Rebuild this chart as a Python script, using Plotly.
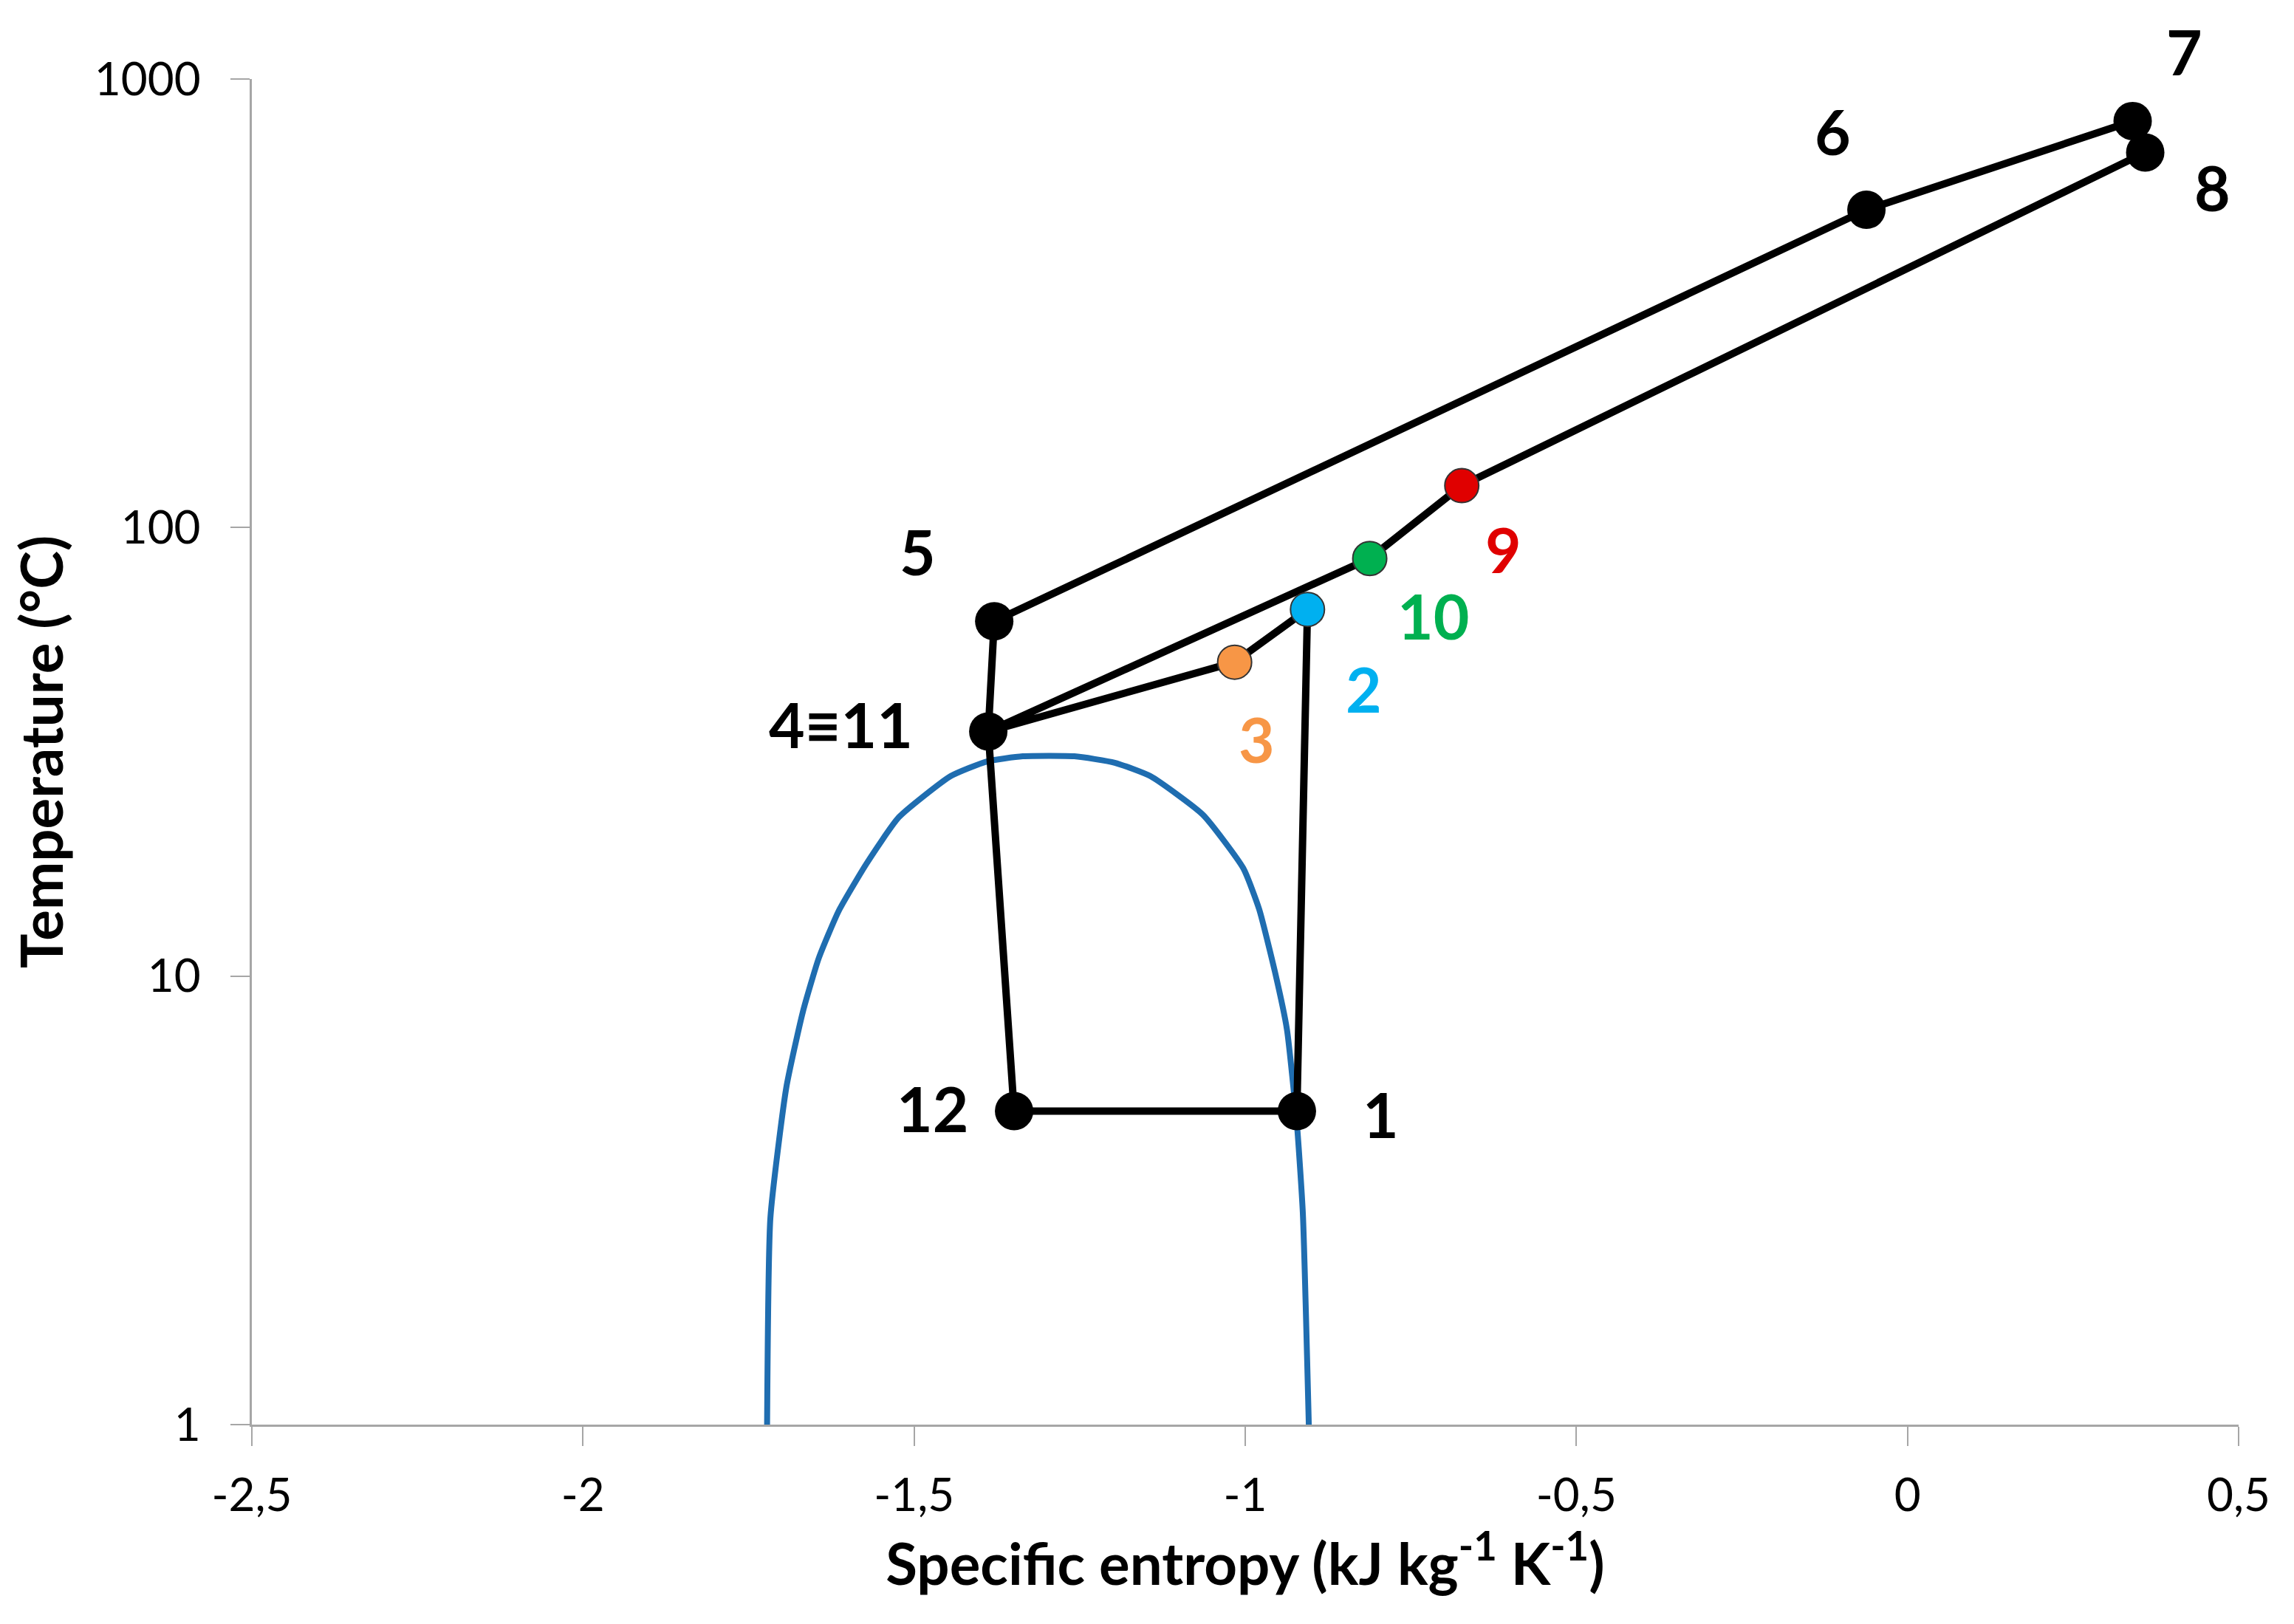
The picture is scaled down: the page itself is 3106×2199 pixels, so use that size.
import math
import plotly.graph_objects as go

# saturation dome (blue curve)
dome_entropy = [-1.722, -1.717, -1.693, -1.668, -1.644, -1.614, -1.572, -1.523, -1.445, -1.390, -1.336,
                -1.258, -1.197, -1.143, -1.064, -1.003, -0.979, -0.955, -0.937, -0.922, -0.913, -0.904]
dome_temp = [1.0, 2.89, 5.64, 8.32, 10.96, 13.96, 17.8, 22.6, 27.9, 30.1, 30.9,
             30.9, 29.9, 27.9, 22.9, 17.4, 14.1, 10.2, 7.6, 4.69, 2.96, 1.0]

# cycle states
state_names = ["1", "2", "3", "4≡11", "5", "6", "7", "8", "9", "10", "12"]
state_entropy = [-0.922, -0.906, -1.016, -1.388, -1.379, -0.062, 0.340, 0.359, -0.673, -0.812, -1.349]
state_temp = [5.0, 65.7, 50.1, 35.1, 61.8, 511, 806, 686, 124, 85.3, 5.0]
state_colors = ["black", "#00B0F0", "#F79646", "black", "black", "black", "black", "black",
                "#E00000", "#00B050", "black"]

# order in which the states are joined: 1-2-3-4-5-6-7-8-9-10-11(=4)-12-1
cycle_order = ["1", "2", "3", "4≡11", "5", "6", "7", "8", "9", "10", "4≡11", "12", "1"]

x_ticks = [-2.5, -2, -1.5, -1, -0.5, 0, 0.5]
x_ticktext = ["-2,5", "-2", "-1,5", "-1", "-0,5", "0", "0,5"]
y_ticks = [1, 10, 100, 1000]
y_ticktext = ["1", "10", "100", "1000"]

idx = {n: i for i, n in enumerate(state_names)}

fig = go.Figure()

fig.add_trace(go.Scatter(x=dome_entropy, y=dome_temp, mode="lines",
                         line=dict(color="#1F6DB0", width=8, shape="spline", smoothing=0.5),
                         showlegend=False))

fig.add_trace(go.Scatter(x=[state_entropy[idx[n]] for n in cycle_order],
                         y=[state_temp[idx[n]] for n in cycle_order],
                         mode="lines", line=dict(color="black", width=10), showlegend=False))

# black markers
blk = [i for i, c in enumerate(state_colors) if c == "black"]
fig.add_trace(go.Scatter(x=[state_entropy[i] for i in blk], y=[state_temp[i] for i in blk],
                         mode="markers", marker=dict(color="black", size=52), showlegend=False))
# coloured markers
col = [i for i, c in enumerate(state_colors) if c != "black"]
fig.add_trace(go.Scatter(x=[state_entropy[i] for i in col], y=[state_temp[i] for i in col],
                         mode="markers",
                         marker=dict(color=[state_colors[i] for i in col], size=46,
                                     line=dict(color="#333333", width=2)),
                         showlegend=False))

# label offsets (px) from each point
label_shift = {
    "1": (114, -4, "center"),
    "2": (76, -107, "center"),
    "3": (30, -104, "center"),
    "4≡11": (-100, 10, "right"),
    "5": (-104, 95, "center"),
    "6": (-46, 107, "center"),
    "7": (70, 94, "center"),
    "8": (91, -47, "center"),
    "9": (56, -86, "center"),
    "10": (86, -77, "center"),
    "12": (-60, 4, "right"),
}
for i, n in enumerate(state_names):
    dx, dy, anchor = label_shift[n]
    fig.add_annotation(x=state_entropy[i], y=math.log10(state_temp[i]), text="<b>%s</b>" % n,
                       showarrow=False, xshift=dx, yshift=dy, xanchor=anchor, yanchor="middle",
                       font=dict(family="Lato", size=84, color=state_colors[i]))

fig.update_layout(
    width=3106, height=2199, autosize=False,
    plot_bgcolor="white", paper_bgcolor="white",
    margin=dict(l=333, r=83, t=99, b=278),
    font=dict(family="Lato", color="black"),
    xaxis=dict(range=[-2.5, 0.5], tickvals=x_ticks, ticktext=x_ticktext,
               showline=True, linecolor="#A6A6A6", linewidth=3,
               ticks="outside", ticklen=26, tickwidth=2, tickcolor="#A6A6A6",
               showgrid=False, zeroline=False, tickfont=dict(size=62),
               ticklabelstandoff=14,
               title=dict(text="<b>Specific entropy (kJ kg<sup>-1</sup> K<sup>-1</sup>)</b>",
                          font=dict(size=78), standoff=28)),
    yaxis=dict(type="log", range=[0, 3], tickvals=y_ticks, ticktext=y_ticktext,
               showline=True, linecolor="#A6A6A6", linewidth=3,
               ticks="outside", ticklen=26, tickwidth=2, tickcolor="#A6A6A6",
               showgrid=False, zeroline=False, tickfont=dict(size=62),
               ticklabelstandoff=28,
               title=dict(text="<b>Temperature (°C)</b>", font=dict(size=78), standoff=40)),
)

fig.write_html("out.html")
